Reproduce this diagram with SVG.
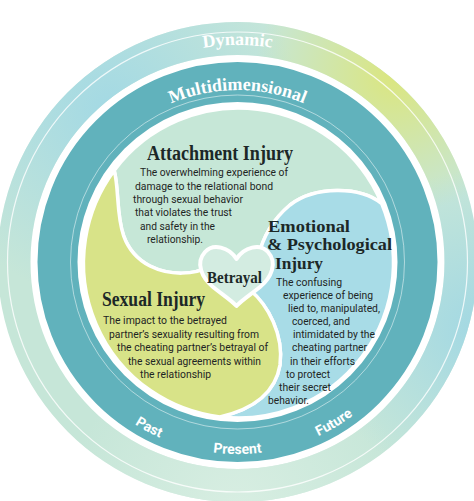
<svg xmlns="http://www.w3.org/2000/svg" width="474" height="501" viewBox="0 0 474 501">
<defs>
<style>
.title{font-family:"Liberation Serif","Times New Roman",serif;font-weight:700;fill:#1c2827;font-size:20px}
.body{font-family:Roboto,"Liberation Sans",Arial,sans-serif;font-size:11.5px;fill:#1e2524}
.ring{font-family:"Liberation Serif","Times New Roman",serif;font-weight:700;fill:#ffffff;font-size:18px}
.time{font-family:Roboto,"Liberation Sans",Arial,sans-serif;font-weight:700;fill:#ffffff;font-size:14px}
.sep{stroke:#ffffff;stroke-width:3.5;stroke-linejoin:round}
</style>
<clipPath id="outerClip"><path clip-rule="evenodd" d="M-2.5,262 A240,240 0 1 0 477.5,262 A240,240 0 1 0 -2.5,262 Z M30.5,262 A207,207 0 1 0 444.5,262 A207,207 0 1 0 30.5,262 Z"/></clipPath>
<radialGradient id="gBlueTL" gradientUnits="userSpaceOnUse" cx="110" cy="110" r="190"><stop offset="0" stop-color="#a3d9e4"/><stop offset="1" stop-color="#a3d9e4" stop-opacity="0"/></radialGradient>
<radialGradient id="gYel" gradientUnits="userSpaceOnUse" cx="395" cy="75" r="140"><stop offset="0" stop-color="#dbe67f"/><stop offset="1" stop-color="#dbe67f" stop-opacity="0"/></radialGradient>
<radialGradient id="gBlueR" gradientUnits="userSpaceOnUse" cx="480" cy="330" r="160"><stop offset="0" stop-color="#a2d8e3"/><stop offset="1" stop-color="#a2d8e3" stop-opacity="0"/></radialGradient>
<radialGradient id="gPale" gradientUnits="userSpaceOnUse" cx="237" cy="510" r="170"><stop offset="0" stop-color="#d8eee2"/><stop offset="1" stop-color="#d8eee2" stop-opacity="0"/></radialGradient>
<path id="pDyn" d="M20.5,262 A217,217 0 0 1 454.5,262"/>
<path id="pMulti" d="M65.5,262 A172,172 0 0 1 409.5,262"/>
<path id="pTime" d="M45.5,262 A192,192 0 0 0 429.5,262"/>
</defs>
<rect width="474" height="501" fill="#ffffff"/>

<g id="ring-dynamic">
<g clip-path="url(#outerClip)">
<rect width="474" height="501" fill="#c6e6d8"/>
<rect width="474" height="501" fill="url(#gBlueTL)"/>
<rect width="474" height="501" fill="url(#gYel)"/>
<rect width="474" height="501" fill="url(#gBlueR)"/>
<rect width="474" height="501" fill="url(#gPale)"/>
</g>
<circle cx="237.5" cy="262" r="230" fill="none" stroke="#ffffff" stroke-opacity="0.8" stroke-width="1.2"/>
<text class="ring"><textPath href="#pDyn" startOffset="50%" text-anchor="middle">Dynamic</textPath></text>
</g>

<g id="ring-multidimensional">
<circle cx="237.5" cy="262" r="180" fill="none" stroke="#61b2bc" stroke-width="40"/>
<circle cx="237.5" cy="262" r="167" fill="none" stroke="#ffffff" stroke-opacity="0.5" stroke-width="1"/>
<text class="ring"><textPath href="#pMulti" startOffset="50%" text-anchor="middle">Multidimensional</textPath></text>
<text class="time"><textPath href="#pTime" startOffset="34.4%" text-anchor="middle">Past</textPath></text>
<text class="time"><textPath href="#pTime" startOffset="50%" text-anchor="middle">Present</textPath></text>
<text class="time"><textPath href="#pTime" startOffset="67.2%" text-anchor="middle">Future</textPath></text>
</g>

<g id="node-attachment">
<path class="sep" fill="#c6e7d7" d="M114.2,170.4 A155,155 0 0 1 381.7,203.7 C360,186 315,186 290,205 C272,220 262,240 258,258 L238,272 L210,266 C195,275 170,276 150,266 C110,245 122,200 114.2,170.4 Z"/>
<text class="title" x="220" y="159.5" text-anchor="middle" textLength="146" lengthAdjust="spacingAndGlyphs">Attachment Injury</text>
<text class="body" x="140" y="176" textLength="148" lengthAdjust="spacingAndGlyphs">The overwhelming experience of</text>
<text class="body" x="135" y="189.5" textLength="138" lengthAdjust="spacingAndGlyphs">damage to the relational bond</text>
<text class="body" x="133" y="203" textLength="110" lengthAdjust="spacingAndGlyphs">through sexual behavior</text>
<text class="body" x="135" y="216" textLength="97" lengthAdjust="spacingAndGlyphs">that violates the trust</text>
<text class="body" x="140" y="229.5" textLength="75" lengthAdjust="spacingAndGlyphs">and safety in the</text>
<text class="body" x="147" y="243" textLength="56" lengthAdjust="spacingAndGlyphs">relationship.</text>
</g>

<g id="node-emotional">
<path class="sep" fill="#a8dce7" d="M381.7,203.7 A155,155 0 0 1 219.9,416.9 C250,410 275,395 280,365 C284,335 268,305 250,290 L238,272 L258,258 C262,240 272,220 290,205 C315,186 360,186 381.7,203.7 Z"/>
<text class="title" x="268" y="231.5" style="font-size:16.5px" textLength="82" lengthAdjust="spacingAndGlyphs">Emotional</text>
<text class="title" x="267" y="250" style="font-size:16.5px" textLength="125" lengthAdjust="spacingAndGlyphs">&amp; Psychological</text>
<text class="title" x="275" y="268.5" style="font-size:16.5px" textLength="48" lengthAdjust="spacingAndGlyphs">Injury</text>
<text class="body" x="276" y="285.5" textLength="66" lengthAdjust="spacingAndGlyphs">The confusing</text>
<text class="body" x="283" y="298.5" textLength="90" lengthAdjust="spacingAndGlyphs">experience of being</text>
<text class="body" x="288" y="311.5" textLength="92" lengthAdjust="spacingAndGlyphs">lied to, manipulated,</text>
<text class="body" x="292" y="325" textLength="58" lengthAdjust="spacingAndGlyphs">coerced, and</text>
<text class="body" x="293" y="338" textLength="82" lengthAdjust="spacingAndGlyphs">intimidated by the</text>
<text class="body" x="292" y="351" textLength="75" lengthAdjust="spacingAndGlyphs">cheating partner</text>
<text class="body" x="290" y="364.5" textLength="65" lengthAdjust="spacingAndGlyphs">in their efforts</text>
<text class="body" x="286" y="378" textLength="44" lengthAdjust="spacingAndGlyphs">to protect</text>
<text class="body" x="279" y="391" textLength="52" lengthAdjust="spacingAndGlyphs">their secret</text>
<text class="body" x="268" y="404" textLength="41" lengthAdjust="spacingAndGlyphs">behavior.</text>
</g>

<g id="node-sexual">
<path class="sep" fill="#d8e388" d="M219.9,416.9 A155,155 0 0 1 114.2,170.4 C122,200 110,245 150,266 C170,276 195,275 210,266 L238,272 L250,290 C268,305 284,335 280,365 C275,395 250,410 219.9,416.9 Z"/>
<text class="title" x="102" y="306" textLength="103" lengthAdjust="spacingAndGlyphs">Sexual Injury</text>
<text class="body" x="103" y="324" textLength="124" lengthAdjust="spacingAndGlyphs">The impact to the betrayed</text>
<text class="body" x="109" y="337.5" textLength="150" lengthAdjust="spacingAndGlyphs">partner’s sexuality resulting from</text>
<text class="body" x="117" y="351" textLength="151" lengthAdjust="spacingAndGlyphs">the cheating partner’s betrayal of</text>
<text class="body" x="128" y="364.5" textLength="133" lengthAdjust="spacingAndGlyphs">the sexual agreements within</text>
<text class="body" x="140" y="378" textLength="71" lengthAdjust="spacingAndGlyphs">the relationship</text>
</g>

<g id="node-betrayal">
<path fill="#d3ece1" stroke="#ffffff" stroke-width="4" stroke-linejoin="round" d="M236.5,259 C229,247 213,243 205,252 C195,263 202,278 213,287 C223,295 231,300 236.5,306 C242,300 250,295 260,287 C271,278 278,263 268,252 C260,243 244,247 236.5,259 Z"/>
<text class="title" x="234.5" y="283" text-anchor="middle" style="font-size:17px" textLength="55" lengthAdjust="spacingAndGlyphs">Betrayal</text>
</g>
</svg>
